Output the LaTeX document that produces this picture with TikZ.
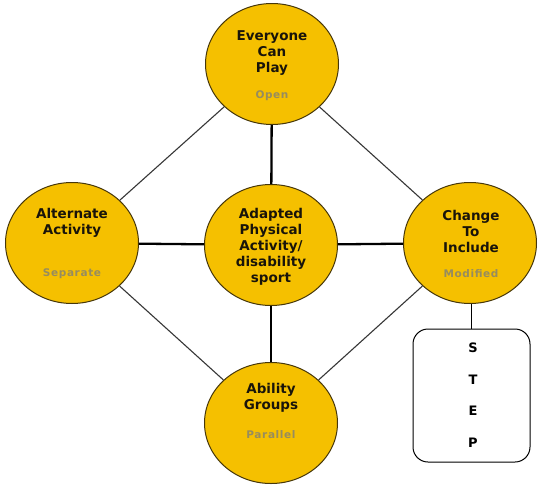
\documentclass[tikz,border=0pt]{standalone}
\usepackage{fontspec}
\setmainfont{DejaVu Sans}
\newfontfamily\subfont[LetterSpace=6]{DejaVu Sans}
\usetikzlibrary{shapes.geometric}
\definecolor{gold}{RGB}{245,192,0}
\definecolor{rim}{RGB}{70,55,10}
\definecolor{ttl}{RGB}{25,20,10}
\definecolor{sub}{RGB}{150,140,95}
\definecolor{thin}{RGB}{55,55,55}
\tikzset{
  disc/.style={ellipse,draw=rim,fill=gold,line width=1pt,minimum width=133pt,minimum height=121pt,inner sep=0pt},
  ttltext/.style={text=ttl,font=\fontsize{13.5}{16}\selectfont\bfseries,align=center,inner sep=0pt},
  subtext/.style={text=sub,font=\fontsize{10.5}{12}\selectfont\subfont\bfseries,inner sep=0pt},
  spoke/.style={line width=2.3pt,draw=black},
  diag/.style={line width=1.1pt,draw=thin},
  stepbox/.style={draw=black,line width=1pt,rounded corners=15pt,fill=white,minimum width=117pt,minimum height=133pt,inner sep=0pt},
  letter/.style={text=black,font=\fontsize{13}{15}\selectfont\bfseries,inner sep=0pt}
}
\begin{document}
\begin{tikzpicture}[x=1pt,y=-1pt]
\useasboundingbox[fill=white] (0,0) rectangle (550,499);
\node[disc] (top) at (272,64) {};
\node[disc] (left) at (72,243) {};
\node[disc] (mid) at (271,245) {};
\node[disc] (right) at (470,243) {};
\node[disc] (bot) at (271,423) {};
\node[stepbox] (step) at (471.5,395.5) {};
\draw[diag] (top) -- (left);
\draw[diag] (top) -- (right);
\draw[diag] (left) -- (bot);
\draw[diag] (right) -- (bot);
\draw[spoke] (mid) -- (top);
\draw[spoke] (mid) -- (left);
\draw[spoke] (mid) -- (right);
\draw[spoke] (mid) -- (bot);
\draw[line width=1.2pt] (right.south -| step.north) -- (step.north);
\node[ttltext] (t1) at (272,53) {Everyone\\Can\\Play};
\node[subtext] (s1) at (272,96) {Open};
\node[ttltext] (t2) at (72,223) {Alternate\\Activity};
\node[subtext] (s2) at (72,274) {Separate};
\node[ttltext] (t3) at (271,247) {Adapted\\Physical\\Activity/\\disability\\sport};
\node[ttltext] (t4) at (471,231) {Change\\To\\Include};
\node[subtext] (s4) at (471,274) {Modified};
\node[ttltext] (t5) at (271,398) {Ability\\Groups};
\node[subtext] (s5) at (271,435) {Parallel};
\node[letter] (l1) at (473,348) {S};
\node[letter] (l2) at (473,380) {T};
\node[letter] (l3) at (473,411) {E};
\node[letter] (l4) at (473,443) {P};
\end{tikzpicture}
\end{document}
